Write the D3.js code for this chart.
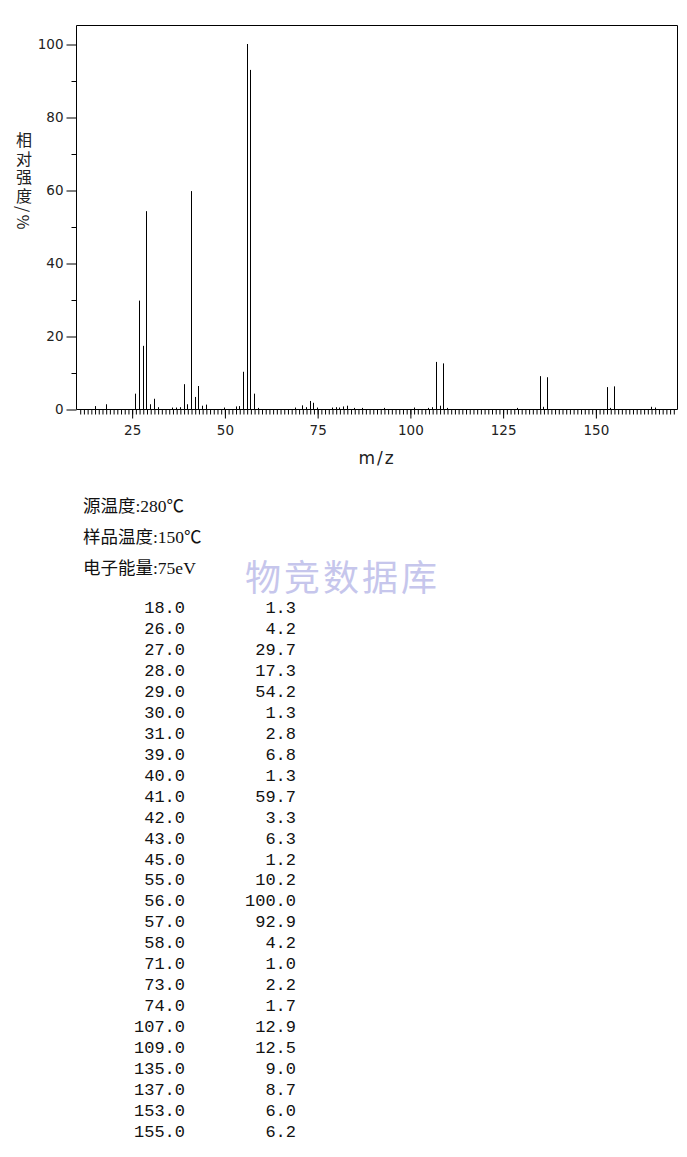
<!DOCTYPE html>
<html><head><meta charset="utf-8">
<script src="https://cdn.jsdelivr.net/npm/d3@7"></script>
<style>body{margin:0;background:#fff}svg{display:block}</style>
</head><body>
<svg id="c" width="687" height="1157"></svg>
<script>
// Listed peaks (m/z, relative intensity %)
const tableMz = [18,26,27,28,29,30,31,39,40,41,42,43,45,55,56,57,58,71,73,74,107,109,135,137,153,155];
const tableInt = [1.3,4.2,29.7,17.3,54.2,1.3,2.8,6.8,1.3,59.7,3.3,6.3,1.2,10.2,100.0,92.9,4.2,1.0,2.2,1.7,12.9,12.5,9.0,8.7,6.0,6.2];
// Small unlisted peaks visible in the spectrum
const minorMz = [15,32,36,37,38,44,50,53,54,59,69,72,75,79,80,81,82,83,85,87,93,101,105,106,108,110,129,136,154,165,166];
const minorInt = [0.8,0.5,0.4,0.4,0.5,0.9,0.4,0.7,0.8,0.3,0.4,0.5,0.4,0.4,0.5,0.4,0.7,0.9,0.3,0.3,0.3,0.4,0.3,0.5,0.9,0.3,0.3,0.6,0.3,0.6,0.4];
const xMajorTicks = [25,50,75,100,125,150];
const yMajorTicks = [0,20,40,60,80,100];
const yMinorTicks = [10,30,50,70,90];
const yLabel = "相对强度/%";
const xLabel = "m/z";
const infoLines = ["源温度:280℃","样品温度:150℃","电子能量:75eV"];
const watermark = "物竞数据库";

const svg = d3.select("#c");
const L = 76, R = 677, T = 25, B = 409;
const x = d3.scaleLinear().domain([10,172]).range([L, R]);
const y = d3.scaleLinear().domain([0,100]).range([B, 44]);
const px = v => Math.round(x(v)) + 0.5;

// peaks
const peaks = tableMz.map((m,i)=>({m, v:tableInt[i]})).concat(minorMz.map((m,i)=>({m, v:minorInt[i]})));
svg.append("g").selectAll("line").data(peaks).join("line")
  .attr("x1", d=>px(d.m)).attr("x2", d=>px(d.m))
  .attr("y1", B).attr("y2", d=>y(d.v))
  .attr("stroke","#000").attr("stroke-width",1);

// frame
svg.append("path").attr("d", `M${L+0.5},${B+0.5}V${T+0.5}H${R+0.5}V${B+0.5}H${L+0.5}`)
  .attr("fill","none").attr("stroke","#000").attr("stroke-width",1);

// x axis
const gxm = svg.append("g").attr("transform",`translate(0.5,${B+0.5})`)
  .call(d3.axisBottom(x).tickValues(d3.range(11,172)).tickSize(5).tickFormat(""));
gxm.select(".domain").remove();
const gx = svg.append("g").attr("transform",`translate(0.5,${B+0.5})`)
  .call(d3.axisBottom(x).tickValues(xMajorTicks).tickSize(9).tickPadding(7).tickFormat(d3.format("d")));
gx.select(".domain").remove();
gx.selectAll("text").attr("font-family","DejaVu Sans").attr("font-size",13.5).attr("fill","#222");

// y axis
const gym = svg.append("g").attr("transform",`translate(${L+0.5},0.5)`)
  .call(d3.axisLeft(y).tickValues(yMinorTicks).tickSize(5).tickFormat(""));
gym.select(".domain").remove();
const gy = svg.append("g").attr("transform",`translate(${L+0.5},0.5)`)
  .call(d3.axisLeft(y).tickValues(yMajorTicks).tickSize(10).tickPadding(3).tickFormat(d3.format("d")));
gy.select(".domain").remove();
gy.selectAll("text").attr("font-family","DejaVu Sans").attr("font-size",13.5).attr("fill","#222");
svg.selectAll(".tick line").attr("stroke","#000");

// y label (vertical writing)
svg.append("text").attr("x",24).attr("y",132)
  .style("writing-mode","vertical-rl")
  .attr("font-family","Noto Sans CJK SC").attr("font-size",16).attr("letter-spacing",2.5)
  .attr("fill","#222").text(yLabel);

// x label
svg.append("text").attr("x",377).attr("y",464).attr("text-anchor","middle")
  .attr("font-family","DejaVu Sans").attr("font-size",17).attr("letter-spacing",2).attr("fill","#222").text(xLabel);

// info lines
infoLines.forEach((t,i)=>{
  svg.append("text").attr("x",83).attr("y",512+i*31)
    .attr("font-family","Liberation Serif, Noto Sans CJK SC").attr("font-size",17.5).attr("fill","#111").text(t);
});

// watermark
svg.append("text").attr("x",245).attr("y",591).attr("font-family","Noto Sans CJK SC")
  .attr("font-size",36).attr("letter-spacing",3).attr("fill","#c6c6ec").text(watermark);

// table
const rows = svg.append("g").attr("font-family","Liberation Mono").attr("font-size",17).attr("fill","#111");
tableMz.forEach((m,i)=>{
  const yy = 613 + i*20.96;
  rows.append("text").attr("x",185).attr("y",yy).attr("text-anchor","end").text(m.toFixed(1));
  rows.append("text").attr("x",296).attr("y",yy).attr("text-anchor","end").text(tableInt[i].toFixed(1));
});
</script>
</body></html>
